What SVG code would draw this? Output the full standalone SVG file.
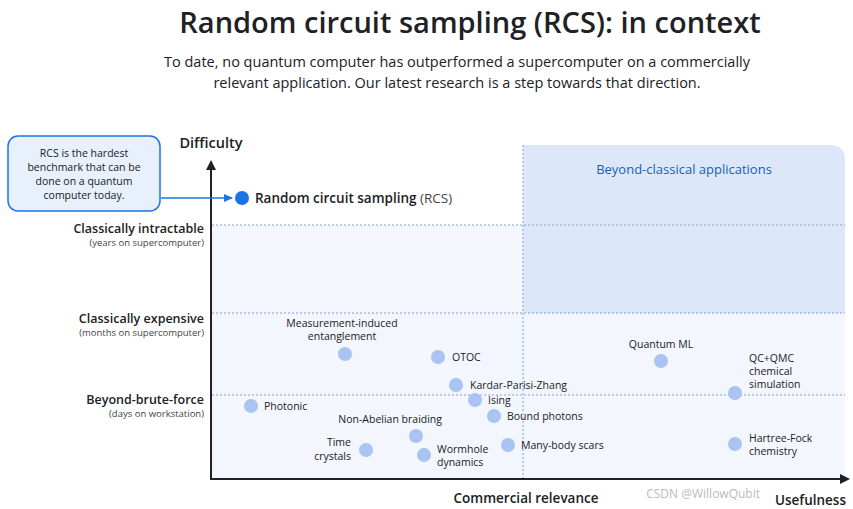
<svg xmlns="http://www.w3.org/2000/svg" width="853" height="509" viewBox="0 0 853 509">
<style>
text{font-family:"Open Sans","Liberation Sans",sans-serif;fill:#202124}
.b{font-weight:600}
.lab{font-size:10.5px}
.sub{font-size:9.5px;fill:#444}
.cat{font-size:12.5px;font-weight:600}
.dot{fill:#a9c3f2}
.grid{stroke:#7fa3d8;stroke-width:1;stroke-dasharray:2 2;fill:none}
</style>
<defs>
<marker id="ah" markerWidth="10" markerHeight="10" refX="8" refY="5" orient="auto" markerUnits="userSpaceOnUse"><path d="M0,0 L10,5 L0,10 z" fill="#202124"/></marker>
<marker id="bh" markerWidth="10" markerHeight="10" refX="8" refY="5" orient="auto" markerUnits="userSpaceOnUse"><path d="M0,1 L9,5 L0,9 z" fill="#1a73e8"/></marker>
</defs>
<rect width="853" height="509" fill="#fff"/>
<text x="470" y="33" text-anchor="middle" font-size="29" class="b">Random circuit sampling (RCS): in context</text>
<text x="457" y="67" text-anchor="middle" font-size="14.5">To date, no quantum computer has outperformed a supercomputer on a commercially</text>
<text x="457" y="88" text-anchor="middle" font-size="14.5">relevant application. Our latest research is a step towards that direction.</text>
<g id="background">
<rect x="212" y="225" width="633" height="254" fill="#f3f7fd"/>
<path d="M523,145 H830 Q845,145 845,160 V313 H523 Z" fill="#dce8f9"/>
</g>
<g id="connectors">
<line class="grid" x1="212" y1="225" x2="845" y2="225"/>
<line class="grid" x1="212" y1="313" x2="845" y2="313"/>
<line class="grid" x1="212" y1="395" x2="845" y2="395"/>
<line class="grid" x1="523" y1="145" x2="523" y2="479"/>
<line x1="211" y1="480" x2="211" y2="162" stroke="#202124" stroke-width="2" marker-end="url(#ah)"/>
<line x1="210" y1="479" x2="848" y2="479" stroke="#202124" stroke-width="2" marker-end="url(#ah)"/>
<line x1="161" y1="198" x2="232" y2="198" stroke="#1a73e8" stroke-width="1.5" marker-end="url(#bh)"/>
</g>
<text x="211" y="148" text-anchor="middle" font-size="14.5" class="b">Difficulty</text>
<text x="526" y="503" text-anchor="middle" font-size="13.5" class="b">Commercial relevance</text>
<text x="846" y="505" text-anchor="end" font-size="13.5" class="b">Usefulness</text>
<text x="760" y="498" text-anchor="end" font-size="12" style="fill:#bbb">CSDN @WillowQubit</text>
<g id="callout">
<rect x="8" y="136" width="152" height="75" rx="10" fill="#e8f0fc" stroke="#1a73e8" stroke-width="1.5"/>
<text x="84" y="157" text-anchor="middle" class="lab">RCS is the hardest</text>
<text x="84" y="171" text-anchor="middle" class="lab">benchmark that can be</text>
<text x="84" y="185" text-anchor="middle" class="lab">done on a quantum</text>
<text x="84" y="199" text-anchor="middle" class="lab">computer today.</text>
</g>
<g id="levels">
<text x="204" y="233" text-anchor="end" class="cat">Classically intractable</text>
<text x="204" y="246" text-anchor="end" class="sub">(years on supercomputer)</text>
<text x="204" y="323" text-anchor="end" class="cat">Classically expensive</text>
<text x="204" y="336" text-anchor="end" class="sub">(months on supercomputer)</text>
<text x="204" y="404" text-anchor="end" class="cat">Beyond-brute-force</text>
<text x="204" y="417" text-anchor="end" class="sub">(days on workstation)</text>
</g>
<g id="rcs"><circle cx="242" cy="198" r="7" fill="#1a73e8"/><text x="255" y="203" font-size="13.5" class="b">Random circuit sampling <tspan style="font-weight:400;fill:#444">(RCS)</tspan></text></g>
<text x="684" y="174" text-anchor="middle" font-size="13" style="fill:#1a5fb4">Beyond-classical applications</text>
<g id="mie"><circle class="dot" cx="345" cy="354" r="7"/><text x="342" y="327" text-anchor="middle" class="lab">Measurement-induced</text><text x="342" y="340" text-anchor="middle" class="lab">entanglement</text></g>
<g id="otoc"><circle class="dot" cx="438" cy="357" r="7"/><text x="452" y="361" class="lab">OTOC</text></g>
<g id="kpz"><circle class="dot" cx="456" cy="385" r="7"/><text x="470" y="389" class="lab">Kardar-Parisi-Zhang</text></g>
<g id="ising"><circle class="dot" cx="475" cy="400" r="7"/><text x="488" y="404" class="lab">Ising</text></g>
<g id="bound"><circle class="dot" cx="494" cy="416" r="7"/><text x="507" y="420" class="lab">Bound photons</text></g>
<g id="photonic"><circle class="dot" cx="251" cy="406" r="7"/><text x="264" y="410" class="lab">Photonic</text></g>
<g id="nab"><circle class="dot" cx="416" cy="436" r="7"/><text x="442" y="423" text-anchor="end" class="lab">Non-Abelian braiding</text></g>
<g id="time"><circle class="dot" cx="366" cy="450" r="7"/><text x="351" y="446" text-anchor="end" class="lab">Time</text><text x="351" y="460" text-anchor="end" class="lab">crystals</text></g>
<g id="worm"><circle class="dot" cx="424" cy="455" r="7"/><text x="437" y="453" class="lab">Wormhole</text><text x="437" y="466" class="lab">dynamics</text></g>
<g id="mbs"><circle class="dot" cx="508" cy="445" r="7"/><text x="521" y="449" class="lab">Many-body scars</text></g>
<g id="qml"><circle class="dot" cx="661" cy="361" r="7"/><text x="661" y="348" text-anchor="middle" class="lab">Quantum ML</text></g>
<g id="qcqmc"><circle class="dot" cx="735" cy="393" r="7"/><text x="749" y="362" class="lab">QC+QMC</text><text x="749" y="375" class="lab">chemical</text><text x="749" y="388" class="lab">simulation</text></g>
<g id="hf"><circle class="dot" cx="735" cy="444" r="7"/><text x="749" y="442" class="lab">Hartree-Fock</text><text x="749" y="455" class="lab">chemistry</text></g>
</svg>
